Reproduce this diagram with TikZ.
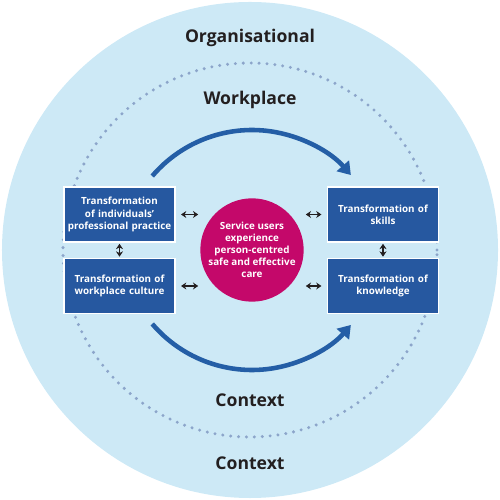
\documentclass[tikz,border=0pt]{standalone}
\usepackage{fontspec}
\setmainfont{Open Sans}
\usepackage{xcolor}
\usepackage{tikz}
\usetikzlibrary{positioning, arrows.meta, calc}
\definecolor{SkyBack}{RGB}{205,233,246}
\definecolor{BoxBlue}{RGB}{38,88,160}
\definecolor{ArcBlue}{RGB}{36,94,166}
\definecolor{CareMagenta}{RGB}{196,8,106}
\definecolor{DotGrey}{RGB}{140,165,202}
\definecolor{InkDark}{RGB}{35,31,32}
\tikzset{
  tbox/.style={draw=white, line width=0.9pt, fill=BoxBlue, text=white, minimum width=2.22cm,
    minimum height=1.1cm, text width=2.1cm, inner sep=1pt, align=center,
    font=\fontsize{5.6}{6.9}\selectfont\bfseries},
  carecircle/.style={circle, fill=CareMagenta, text=white, minimum size=2cm, inner sep=0pt,
    align=center, font=\fontsize{5.6}{6.9}\selectfont\bfseries},
  levellabel/.style={text=InkDark, font=\fontsize{10}{12}\selectfont\bfseries},
  dbl/.style={{Stealth[length=3pt,width=4pt]}-{Stealth[length=3pt,width=4pt]}, line width=0.8pt, InkDark},
  bigarc/.style={-{Triangle[length=7pt,width=9pt]}, line width=2.6pt, ArcBlue},
  dotring/.style={DotGrey, line width=1.9pt, line cap=round, dash pattern=on 0pt off 4.5pt},
}

\begin{document}
\begin{tikzpicture}
    \useasboundingbox (-5,-5) rectangle (5,5);
    % rings
    \fill[SkyBack] (0,0) circle (4.96);
    \draw[dotring] (0,0) circle (3.74);
    \node[levellabel] (org) at (0,4.24) {Organisational};
    \node[levellabel] (work) at (0,3.0) {Workplace};
    \node[levellabel] (ctxin) at (0,-3.0) {Context};
    \node[levellabel] (ctxout) at (0,-4.26) {Context};
    % centre and boxes
    \node[carecircle] (care) at (0.04,0) {Service users\\experience\\person-centred\\safe and effective\\care};
    \node[tbox] (prac) at (-2.61,0.71) {Transformation\\of individuals'\\professional practice};
    \node[tbox] (cult) at (-2.61,-0.72) {Transformation of\\workplace culture};
    \node[tbox] (skill) at (2.66,0.71) {Transformation of\\skills};
    \node[tbox] (know) at (2.66,-0.72) {Transformation of\\knowledge};
    % links
    \draw[dbl] ([xshift=3pt]prac.east) -- ([xshift=-1pt]prac.east -| care.west);
    \draw[dbl] ([xshift=3pt]cult.east) -- ([xshift=-1pt]cult.east -| care.west);
    \draw[dbl] ([xshift=-3pt]skill.west) -- ([xshift=1pt]skill.west -| care.east);
    \draw[dbl] ([xshift=-3pt]know.west) -- ([xshift=1pt]know.west -| care.east);
    \draw[dbl] ([yshift=-0.6pt]prac.south) -- ([yshift=0.6pt]cult.north);
    \draw[dbl] ([yshift=-0.6pt]skill.south) -- ([yshift=0.6pt]know.north);
    % sweeping arrows
    \coordinate (topstart) at ($(0.04,-0.22)+(139.6:2.62)$);
    \coordinate (botstart) at ($(0.04,0.22)+(-139.6:2.62)$);
    \draw[bigarc] (topstart) arc[start angle=139.6, end angle=41, radius=2.62];
    \draw[bigarc] (botstart) arc[start angle=-139.6, end angle=-41, radius=2.62];
\end{tikzpicture}
\end{document}
